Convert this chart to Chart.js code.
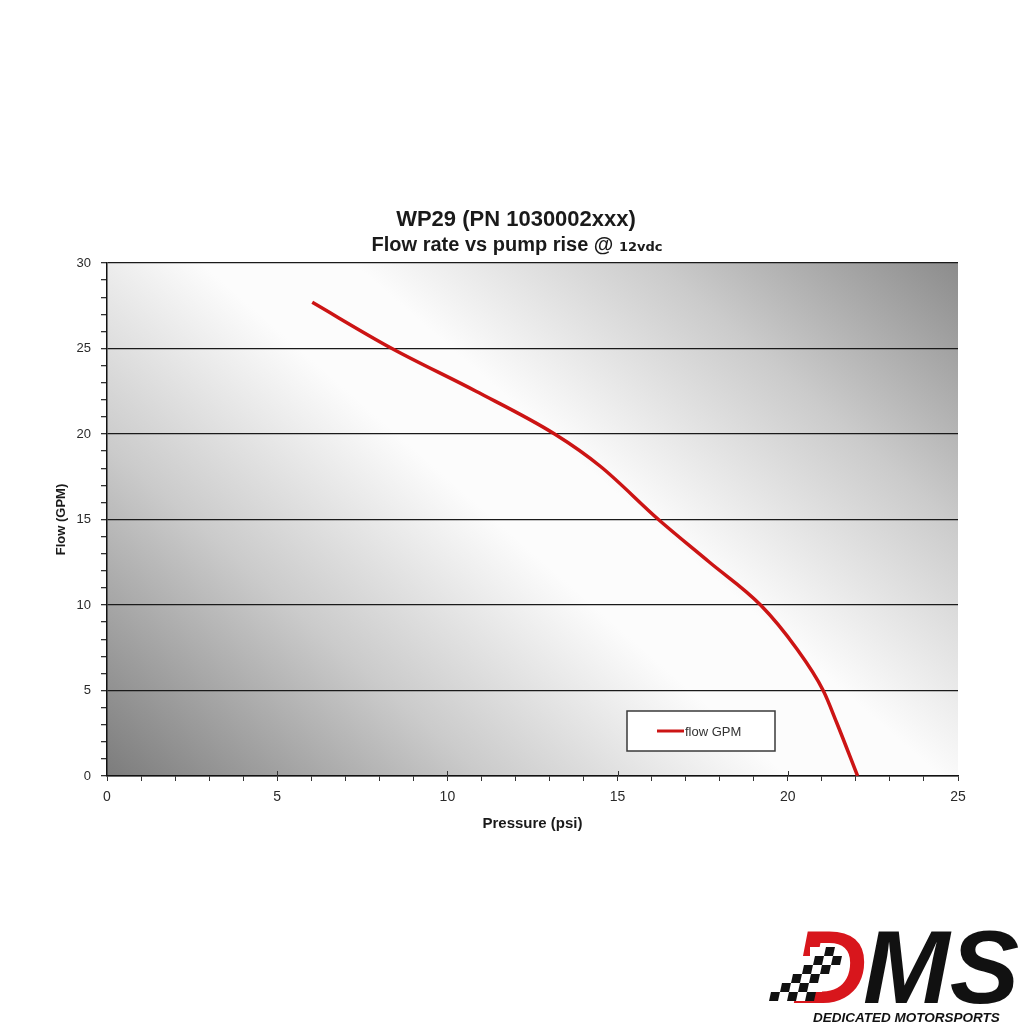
<!DOCTYPE html>
<html>
<head>
<meta charset="utf-8">
<title>WP29 flow rate</title>
<script src="https://cdn.jsdelivr.net/npm/chart.js@4.4.1/dist/chart.umd.min.js"></script>
<style>
  html, body { margin: 0; padding: 0; background: #fff; }
  #wrap { width: 1028px; height: 1028px; }
</style>
</head>
<body>
<div id="wrap"><canvas id="flow-chart"></canvas></div>
<script>
// Data
const pressure = [6.03, 8.37, 10.84, 13.15, 14.5, 16.2, 17.7, 19.2, 20.24, 21.04, 21.44, 22.05];
const flow = [27.7, 25.0, 22.5, 20.0, 18.1, 15.0, 12.5, 10.0, 7.5, 5.0, 3.1, 0];

const titleText = "WP29 (PN 1030002xxx)";
const subtitleText = "Flow rate vs pump rise @ ";
const subtitleSmall = "12vdc";
const seriesLabel = "flow GPM";

const FONT = '"Liberation Sans", Arial, sans-serif';
const lineRed = "#cc1414";

// Shaded plot background (dark corners, white diagonal band)
const plotBackground = {
  id: "plotBackground",
  beforeDraw(chart) {
    const { ctx, chartArea: a } = chart;
    const w = a.right - a.left;
    const p0 = { x: a.left + 0.2 * w, y: a.top };
    const p1 = { x: a.left + 0.89 * w, y: a.bottom };
    const dx = p1.x - p0.x;
    const dy = p1.y - p0.y;
    const len = Math.hypot(dx, dy);
    const n = { x: dy / len, y: -dx / len };
    const c = { x: (p0.x + p1.x) / 2, y: (p0.y + p1.y) / 2 };
    const d = Math.max(
      Math.abs((a.right - c.x) * n.x + (a.top - c.y) * n.y),
      Math.abs((a.left - c.x) * n.x + (a.bottom - c.y) * n.y)
    );
    const g = ctx.createLinearGradient(c.x - d * n.x, c.y - d * n.y, c.x + d * n.x, c.y + d * n.y);
    g.addColorStop(0, "#7c7c7c");
    g.addColorStop(0.25, "#cbcbcb");
    g.addColorStop(0.45, "#fcfcfc");
    g.addColorStop(0.55, "#fcfcfc");
    g.addColorStop(0.75, "#cbcbcb");
    g.addColorStop(1, "#7c7c7c");
    ctx.save();
    ctx.fillStyle = g;
    ctx.fillRect(a.left, a.top, w, a.bottom - a.top);
    ctx.restore();
  },
};

// Title lines, with the smaller "12vdc"
const titles = {
  id: "titles",
  afterDraw(chart) {
    const { ctx } = chart;
    ctx.save();
    ctx.fillStyle = "#1a1a1a";
    ctx.textBaseline = "alphabetic";
    ctx.textAlign = "center";
    ctx.font = "bold 22px " + FONT;
    ctx.fillText(titleText, 516, 226);

    ctx.textAlign = "left";
    ctx.font = "bold 20px " + FONT;
    const w1 = ctx.measureText(subtitleText).width;
    ctx.font = 'bold 13px "DejaVu Sans", sans-serif';
    const w2 = ctx.measureText(subtitleSmall).width;
    const x0 = 517 - (w1 + w2) / 2;
    ctx.font = "bold 20px " + FONT;
    ctx.fillText(subtitleText, x0, 251);
    ctx.font = 'bold 13px "DejaVu Sans", sans-serif';
    ctx.fillText(subtitleSmall, x0 + w1, 251);
    ctx.restore();
  },
};

// Major x ticks cross the axis line
const majorTicks = {
  id: "majorTicks",
  afterDraw(chart) {
    const { ctx, scales, chartArea: a } = chart;
    ctx.save();
    ctx.strokeStyle = "#333";
    ctx.lineWidth = 1;
    for (let v = 5; v < 25; v += 5) {
      const px = Math.round(scales.x.getPixelForValue(v)) + 0.5;
      ctx.beginPath();
      ctx.moveTo(px, a.bottom - 5);
      ctx.lineTo(px, a.bottom);
      ctx.stroke();
    }
    ctx.restore();
  },
};

// Boxed legend inside the plot
const boxLegend = {
  id: "boxLegend",
  afterDraw(chart) {
    const { ctx, chartArea: a } = chart;
    const ds = chart.data.datasets[0];
    const x = a.left + 520;
    const y = a.top + 448;
    ctx.save();
    ctx.fillStyle = "#ffffff";
    ctx.fillRect(x, y, 148, 40);
    ctx.strokeStyle = "#3a3a3a";
    ctx.lineWidth = 1.5;
    ctx.strokeRect(x, y, 148, 40);
    ctx.strokeStyle = ds.borderColor;
    ctx.lineWidth = 3;
    ctx.beginPath();
    ctx.moveTo(x + 30, y + 20);
    ctx.lineTo(x + 57, y + 20);
    ctx.stroke();
    ctx.fillStyle = "#333";
    ctx.font = "13px " + FONT;
    ctx.textBaseline = "middle";
    ctx.fillText(ds.label, x + 58, y + 21);
    ctx.restore();
  },
};

// DMS logo in the corner; flag rows as [start, end] x spans
const flagRows = [
  [812, 838],
  [803, 838],
  [790, 836],
  [778, 830],
  [768, 820],
  [760, 812],
];

const logo = {
  id: "logo",
  afterDraw(chart) {
    const { ctx } = chart;
    const sq = 9;
    const skew = 2;
    const top = 947;
    ctx.save();
    ctx.textBaseline = "alphabetic";
    ctx.textAlign = "left";
    ctx.font = "italic bold 104px " + FONT;
    ctx.fillStyle = "#d8161c";
    ctx.fillText("D", 792, 1003);
    const wd = ctx.measureText("D").width;
    ctx.fillStyle = "#111";
    ctx.fillText("MS", 792 + wd - 4, 1003);

    // checkered flag replaces the stem of the D
    flagRows.forEach(([x0, x1], r) => {
      const by = top + r * sq;
      const shift = (flagRows.length - r) * skew;
      ctx.fillStyle = "#ffffff";
      ctx.fillRect(x0 - 2, by, x1 - x0 + 4, sq);
      for (let c = 0; c < 10; c++) {
        const bx = 758 + c * sq + shift;
        const mid = bx + sq / 2;
        if (mid < x0 || mid > x1) continue;
        if ((r + c) % 2 !== 0) continue;
        ctx.fillStyle = "#111";
        ctx.beginPath();
        ctx.moveTo(bx + skew, by);
        ctx.lineTo(bx + sq + skew, by);
        ctx.lineTo(bx + sq, by + sq);
        ctx.lineTo(bx, by + sq);
        ctx.closePath();
        ctx.fill();
      }
    });

    ctx.fillStyle = "#111";
    ctx.font = "italic bold 13.5px " + FONT;
    ctx.fillText("DEDICATED MOTORSPORTS", 813, 1022);
    ctx.restore();
  },
};

const ctx = document.getElementById("flow-chart");

new Chart(ctx, {
  type: "line",
  data: {
    datasets: [
      {
        label: seriesLabel,
        data: pressure.map((p, i) => ({ x: p, y: flow[i] })),
        borderColor: lineRed,
        backgroundColor: lineRed,
        borderWidth: 3.5,
        pointRadius: 0,
        cubicInterpolationMode: "monotone",
        fill: false,
      },
    ],
  },
  options: {
    responsive: true,
    maintainAspectRatio: false,
    animation: false,
    layout: { padding: { left: 50, right: 70, top: 263, bottom: 194 } },
    plugins: {
      legend: { display: false },
      title: { display: false },
      tooltip: { enabled: false },
    },
    scales: {
      x: {
        type: "linear",
        min: 0,
        max: 25,
        ticks: {
          stepSize: 1,
          autoSkip: false,
          maxRotation: 0,
          padding: 8,
          color: "#2a2a2a",
          font: { family: FONT, size: 14 },
          callback: (v) => (v % 5 === 0 ? v : ""),
        },
        grid: { drawOnChartArea: false, tickLength: 5, tickColor: "#333" },
        border: { color: "#111", width: 1.5 },
        title: {
          display: true,
          text: "Pressure (psi)",
          color: "#1a1a1a",
          font: { family: FONT, size: 15, weight: "bold" },
          padding: { top: 4, bottom: 1 },
        },
        afterFit(scale) {
          scale.height = 58;
        },
      },
      y: {
        min: 0,
        max: 30,
        ticks: {
          stepSize: 1,
          autoSkip: false,
          padding: 10,
          color: "#2a2a2a",
          font: { family: FONT, size: 13 },
          callback: (v) => (v % 5 === 0 ? v : ""),
        },
        grid: {
          color: (c) => (c.tick && c.tick.value % 5 === 0 ? "#1a1a1a" : "rgba(0,0,0,0)"),
          lineWidth: 1.3,
          tickColor: "#333",
          tickLength: 6,
        },
        border: { color: "#111", width: 1.5 },
        title: {
          display: true,
          text: "Flow (GPM)",
          color: "#1a1a1a",
          font: { family: FONT, size: 13, weight: "bold" },
          padding: { top: 4, bottom: 4 },
        },
        afterFit(scale) {
          scale.width = 57;
        },
      },
    },
  },
  plugins: [plotBackground, titles, majorTicks, boxLegend, logo],
});
</script>
</body>
</html>
